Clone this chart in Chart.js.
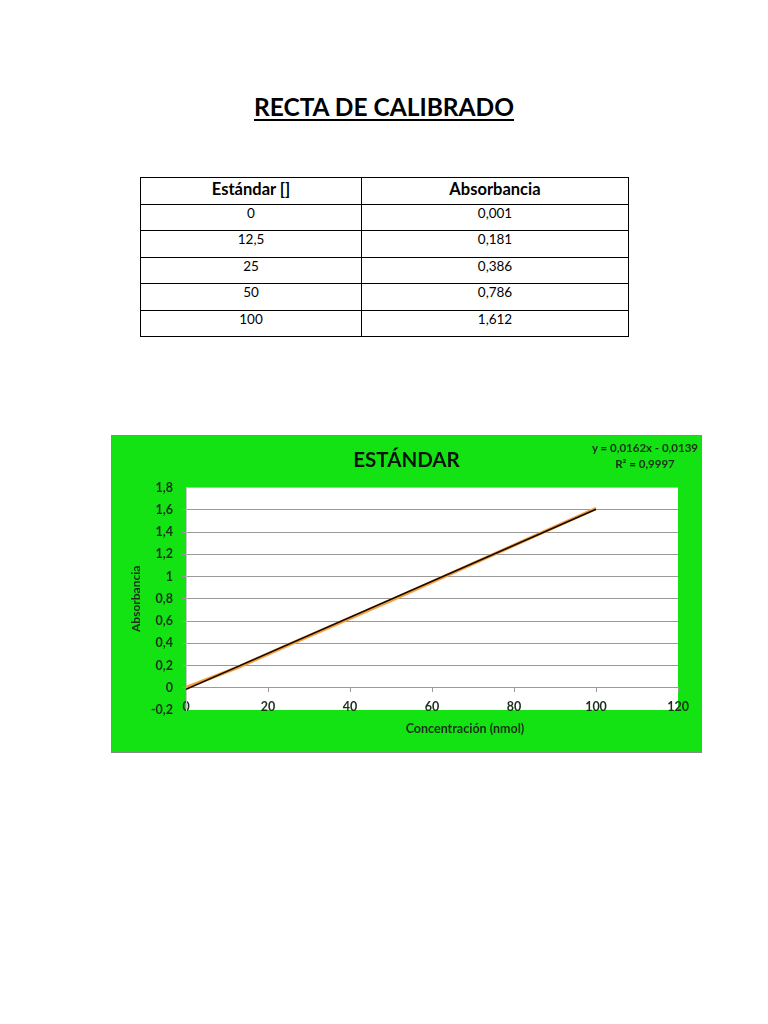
<!DOCTYPE html>
<html>
<head>
<meta charset="utf-8">
<script src="https://cdn.jsdelivr.net/npm/chart.js@4"></script>
<style>
  html, body { margin: 0; padding: 0; background: #fff; }
  body { width: 768px; height: 1024px; position: relative; font-family: Lato, "Open Sans", sans-serif; color: #000; }
  #pageTitle { position: absolute; left: 0; width: 768px; top: 92px; text-align: center; font-weight: bold; font-size: 24.5px; text-decoration: underline; text-decoration-thickness: 2px; text-underline-offset: 3px; }
  #tbl { position: absolute; left: 140px; top: 177px; width: 489px; border-collapse: collapse; font-size: 13.5px; }
  #tbl td, #tbl th { border: 1px solid #000; text-align: center; vertical-align: top; padding: 0; }
  #tbl th { height: 27px; font-weight: bold; font-size: 16.5px; padding-top: 1px; box-sizing: border-box; }
  #tbl td { height: 26.4px; padding-top: 0px; box-sizing: border-box; }
  #tbl .c1 { width: 221px; }
  #box { position: absolute; left: 111px; top: 435px; width: 591px; height: 318px; box-sizing: border-box; border: 1px solid #8a8a8a; background: #13E213; }
  #box canvas { display: block; }
  #eq { position: absolute; left: 463px; width: 140px; top: 4px; text-align: center; font-weight: bold; font-size: 11.5px; line-height: 15.5px; color: #1a2e1a; }
  #xt { position: absolute; left: 253px; width: 200px; top: 285px; text-align: center; font-weight: bold; font-size: 12.5px; color: #1a2e1a; }
</style>
</head>
<body>
<div id="pageTitle">RECTA DE CALIBRADO</div>
<table id="tbl">
  <thead><tr><th class="c1" id="h1"></th><th id="h2"></th></tr></thead>
  <tbody id="tb"></tbody>
</table>
<div id="box">
  <canvas id="c" width="589" height="316"></canvas>
  <div id="eq"><div id="eq1"></div><div id="eq2"></div></div>
  <div id="xt"></div>
</div>
<script>
// ---- data ----
const tableHeaders = ["Estándar []", "Absorbancia"];
const standardLabels = ["0", "12,5", "25", "50", "100"];
const absorbanceLabels = ["0,001", "0,181", "0,386", "0,786", "1,612"];
const concentration = [0, 12.5, 25, 50, 100];
const absorbance = [0.001, 0.181, 0.386, 0.786, 1.612];
const trendX = [0, 100];
const trendY = [-0.0139, 1.6061];
const equationText = "y = 0,0162x - 0,0139";
const r2Text = "R² = 0,9997";
const chartTitle = "ESTÁNDAR";
const xTitle = "Concentración (nmol)";
const yTitle = "Absorbancia";

// ---- table ----
document.getElementById('h1').textContent = tableHeaders[0];
document.getElementById('h2').textContent = tableHeaders[1];
const tb = document.getElementById('tb');
standardLabels.forEach((s, i) => {
  const tr = document.createElement('tr');
  const a = document.createElement('td'); a.className = 'c1'; a.textContent = s;
  const b = document.createElement('td'); b.textContent = absorbanceLabels[i];
  tr.appendChild(a); tr.appendChild(b); tb.appendChild(tr);
});
document.getElementById('eq1').textContent = equationText;
document.getElementById('eq2').textContent = r2Text;
document.getElementById('xt').textContent = xTitle;

// ---- chart ----
const textColor = '#1a2e1a';
const fmt = v => {
  const r = Math.round(v * 10) / 10;
  return String(r).replace('.', ',');
};
const plotBg = {
  id: 'plotBg',
  beforeDraw(chart) {
    const {ctx, chartArea: a} = chart;
    ctx.save();
    ctx.fillStyle = '#ffffff';
    ctx.fillRect(a.left, a.top, a.right - a.left, a.bottom - a.top);
    ctx.restore();
  }
};
new Chart(document.getElementById('c'), {
  type: 'scatter',
  data: {
    datasets: [
      {
        label: 'Lineal',
        data: trendX.map((x, i) => ({x, y: trendY[i]})),
        showLine: true,
        borderColor: '#140800',
        borderWidth: 1.6,
        pointRadius: 0,
        fill: false,
        order: 0
      },
      {
        label: 'Datos',
        data: concentration.map((x, i) => ({x, y: absorbance[i]})),
        showLine: true,
        borderColor: '#F4A040',
        borderWidth: 3.4,
        pointRadius: 0,
        fill: false,
        tension: 0,
        order: 1
      }
    ]
  },
  options: {
    responsive: false,
    animation: false,
    devicePixelRatio: 1,
    layout: { padding: { top: 0, left: 0, right: 0, bottom: 42 } },
    plugins: {
      legend: { display: false },
      tooltip: { enabled: false },
      title: {
        display: true,
        text: chartTitle,
        color: '#0a140a',
        font: { family: 'Lato', size: 20.5, weight: 'bold' },
        padding: { top: 12, bottom: 15 }
      }
    },
    scales: {
      x: {
        type: 'linear',
        position: { y: 0 },
        min: 0, max: 120,
        ticks: {
          stepSize: 20,
          color: textColor,
          font: { family: 'Lato', size: 12.5, weight: 'bold' },
          padding: 8,
          maxRotation: 0,
          callback: v => String(v)
        },
        grid: { drawOnChartArea: false, drawTicks: true, tickLength: 4, color: '#9a9a9a' },
        border: { display: true, color: '#9a9a9a', width: 1 },
        title: { display: false }
      },
      y: {
        type: 'linear',
        min: -0.2, max: 1.8,
        afterFit(scale) { scale.width = 74; },
        ticks: {
          stepSize: 0.2,
          color: textColor,
          font: { family: 'Lato', size: 12.5, weight: 'bold' },
          padding: 9,
          callback: v => fmt(v)
        },
        grid: {
          drawTicks: true,
          tickLength: 4,
          color: ctx => {
            const v = ctx.tick ? Math.round(ctx.tick.value * 10) / 10 : 0;
            return (v === -0.2 || v === 1.8) ? 'rgba(0,0,0,0)' : '#9a9a9a';
          }
        },
        border: { display: true, color: '#c8c8c8', width: 1 },
        title: {
          display: true,
          text: yTitle,
          color: textColor,
          font: { family: 'Lato', size: 12, weight: 'bold' },
          padding: { top: 17, bottom: 0 }
        }
      },
      yRight: {
        type: 'linear',
        position: 'right',
        min: -0.2, max: 1.8,
        afterFit(scale) { scale.width = 23; },
        ticks: { display: false },
        grid: { display: false, drawOnChartArea: false },
        border: { display: false }
      }
    }
  },
  plugins: [plotBg]
});
</script>
</body>
</html>
